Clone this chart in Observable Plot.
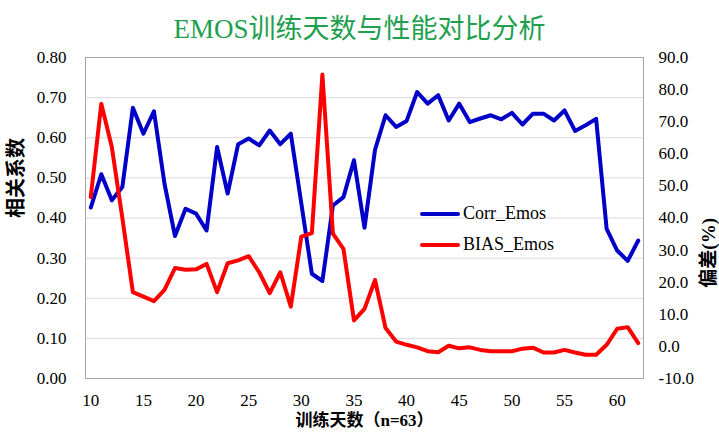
<!DOCTYPE html>
<html>
<head>
<meta charset="utf-8">
<script src="https://cdn.jsdelivr.net/npm/d3@7"></script>
<script src="https://cdn.jsdelivr.net/npm/@observablehq/plot@0.6"></script>
<style>
  html, body { margin: 0; padding: 0; background: #fff; }
  #wrap { position: relative; width: 719px; height: 434px; overflow: hidden; }
  #title { height: 46px; box-sizing: border-box; padding-top: 14px; line-height: 30px; text-align: center;
           font-family: "Liberation Serif", "Noto Sans CJK SC", serif; font-size: 27px; color: #1ea04e; }
  #legend { position: absolute; left: 420px; top: 198px; font-family: "Liberation Serif", serif; font-size: 18px; color: #000; }
  #legend .row { display: flex; align-items: center; height: 31px; }
  #legend .sw { width: 40px; height: 4px; border-radius: 2px; margin-right: 3px; }
  #chart svg text { font-family: "Liberation Serif", "Noto Sans CJK SC", serif; }
</style>
</head>
<body>
<div id="wrap">
  <div id="title">EMOS训练天数与性能对比分析</div>
  <div id="chart"></div>
  <div id="legend"></div>
</div>
<script>
const days = d3.range(10, 63);
const corrEmos = [0.426, 0.509, 0.444, 0.477, 0.675, 0.610, 0.666, 0.486, 0.355, 0.423,
  0.411, 0.369, 0.577, 0.461, 0.584, 0.598, 0.581, 0.618, 0.584, 0.610,
  0.436, 0.261, 0.243, 0.431, 0.452, 0.544, 0.376, 0.570, 0.656, 0.627,
  0.642, 0.714, 0.685, 0.706, 0.643, 0.685, 0.639, 0.648, 0.656, 0.646,
  0.662, 0.633, 0.660, 0.660, 0.643, 0.668, 0.617, 0.631, 0.647, 0.373,
  0.319, 0.293, 0.344];
const biasEmos = [46.5, 75.6, 62.1, 40.0, 16.9, 15.5, 14.1, 17.6, 24.4, 23.9,
  24.0, 25.7, 16.9, 25.9, 26.8, 28.1, 23.1, 16.6, 23.1, 12.4,
  34.2, 35.3, 84.7, 35.1, 30.4, 8.1, 11.7, 20.7, 5.7, 1.5,
  0.5, -0.3, -1.5, -1.8, 0.2, -0.6, -0.3, -1.1, -1.5, -1.5,
  -1.5, -0.7, -0.4, -1.9, -1.9, -1.1, -1.9, -2.6, -2.6, 0.5,
  5.5, 6.0, 1.0];
const xTicks = [10, 15, 20, 25, 30, 35, 40, 45, 50, 55, 60];
const leftTicks = [0, 0.1, 0.2, 0.3, 0.4, 0.5, 0.6, 0.7, 0.8];
const rightTicks = [-10, 0, 10, 20, 30, 40, 50, 60, 70, 80, 90];
const seriesNames = ["Corr_Emos", "BIAS_Emos"];
const seriesColors = ["#0000c8", "#ff0000"];

// map right axis (bias %) onto left scale [0, 0.8]
const toLeft = b => (b + 10) / 100 * 0.8;
const fromLeft = v => v / 0.8 * 100 - 10;

const corrData = days.map((d, i) => ({day: d, v: corrEmos[i]}));
const biasData = days.map((d, i) => ({day: d, v: toLeft(biasEmos[i])}));

const serif = "Liberation Serif";

const chart = Plot.plot({
  width: 719,
  height: 388,
  marginLeft: 85,
  marginRight: 76,
  marginTop: 11,
  marginBottom: 56,
  style: {fontFamily: serif, fontSize: "17px", color: "#000", background: "#fff"},
  x: {domain: [9.5, 62.5]},
  y: {domain: [0, 0.8]},
  marks: [
    Plot.gridY(leftTicks, {stroke: "#d9d9d9", strokeOpacity: 1, strokeWidth: 1}),
    Plot.frame({stroke: "#a6a6a6"}),
    Plot.axisX(xTicks, {tickSize: 0, tickPadding: 15, fontSize: 17, fontFamily: serif, label: null}),
    Plot.axisY(leftTicks, {anchor: "left", tickSize: 0, tickPadding: 19, fontSize: 17, fontFamily: serif,
      tickFormat: d3.format(".2f"), label: null}),
    Plot.axisY(rightTicks.map(toLeft), {anchor: "right", tickSize: 0, tickPadding: 15, fontSize: 17, fontFamily: serif,
      textAnchor: "start", tickFormat: v => fromLeft(v).toFixed(1), label: null}),
    Plot.line(corrData, {x: "day", y: "v", stroke: seriesColors[0], strokeWidth: 4, strokeLinejoin: "round", strokeLinecap: "round"}),
    Plot.line(biasData, {x: "day", y: "v", stroke: seriesColors[1], strokeWidth: 4, strokeLinejoin: "round", strokeLinecap: "round"}),
    Plot.text(["训练天数（n=63）"], {frameAnchor: "bottom", dy: 47, fontWeight: "bold", fontSize: 17, fill: "#000"}),
    Plot.text(["相关系数"], {frameAnchor: "left", dx: -69, rotate: -90, fontWeight: "bold", fontSize: 20, fill: "#000"}),
    Plot.text(["偏差(%)"], {frameAnchor: "right", dx: 65, rotate: -90, fontWeight: "bold", fontSize: 19, fill: "#000"})
  ]
});
document.getElementById("chart").appendChild(chart);

const legend = document.getElementById("legend");
seriesNames.forEach((n, i) => {
  const row = document.createElement("div");
  row.className = "row";
  const sw = document.createElement("div");
  sw.className = "sw";
  sw.style.background = seriesColors[i];
  const t = document.createElement("span");
  t.textContent = n;
  row.appendChild(sw);
  row.appendChild(t);
  legend.appendChild(row);
});
</script>
</body>
</html>
